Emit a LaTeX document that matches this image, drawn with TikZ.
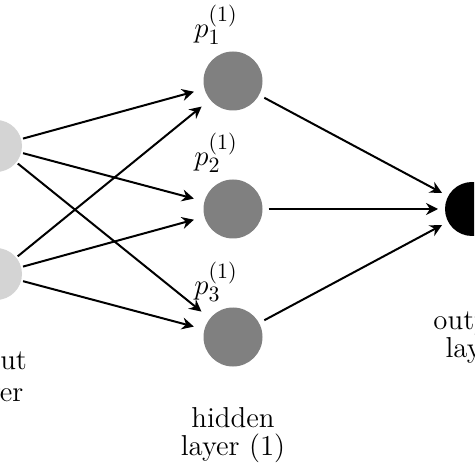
\documentclass[tikz,border=0pt]{standalone}
\usetikzlibrary{arrows.meta}
\definecolor{ingray}{RGB}{212,212,212}
\definecolor{hidgray}{RGB}{128,128,128}
\begin{document}
\begin{tikzpicture}[x=0.5pt,y=-0.5pt,
  neuron/.style={circle,inner sep=0pt,outer sep=0pt},
  innode/.style={neuron,fill=ingray,minimum size=26pt},
  hidnode/.style={neuron,fill=hidgray,minimum size=29.5pt},
  outnode/.style={neuron,fill=black,minimum size=27pt},
  lbl/.style={font=\fontsize{14.4}{17}\selectfont,inner sep=0pt},
  plbl/.style={font=\fontsize{15}{18}\selectfont,inner sep=0pt},
  tip/.style={-{Stealth[length=6pt,width=6pt,inset=2pt]}},
  conn/.style={tip,line width=1pt,shorten <=1pt,shorten >=5.5pt},
  conn2/.style={tip,line width=1pt,shorten <=3pt,shorten >=3.5pt}]
\useasboundingbox (0,0) rectangle (474,474);
\clip (0,0) rectangle (474,474);
\node[innode] (i1) at (-4,146) {};
\node[innode] (i2) at (-4,274) {};
\node[hidnode] (h1) at (233,81) {};
\node[hidnode] (h2) at (233,209) {};
\node[hidnode] (h3) at (233,337) {};
\node[outnode] (o) at (472,209) {};
\node[plbl] (p1) at (216,25) {$p_1^{(1)}$};
\node[plbl] (p2) at (216,153) {$p_2^{(1)}$};
\node[plbl] (p3) at (216,282) {$p_3^{(1)}$};
\node[lbl,anchor=base] (il1) at (-6,369) {input};
\node[lbl,anchor=base] (il2) at (-6,401) {layer};
\node[lbl,anchor=base] (hl1) at (233,427) {hidden};
\node[lbl,anchor=base] (hl2) at (233,455) {layer (1)};
\node[lbl,anchor=base] (ol1) at (475,329) {output};
\node[lbl,anchor=base] (ol2) at (475,357) {layer};
\foreach \a in {i1,i2}{
  \foreach \b in {h1,h2,h3}{
    \draw[conn] (\a) -- (\b);
  }
}
\foreach \b in {h1,h2,h3}{
  \draw[conn2] (\b) -- (o);
}
\end{tikzpicture}
\end{document}
